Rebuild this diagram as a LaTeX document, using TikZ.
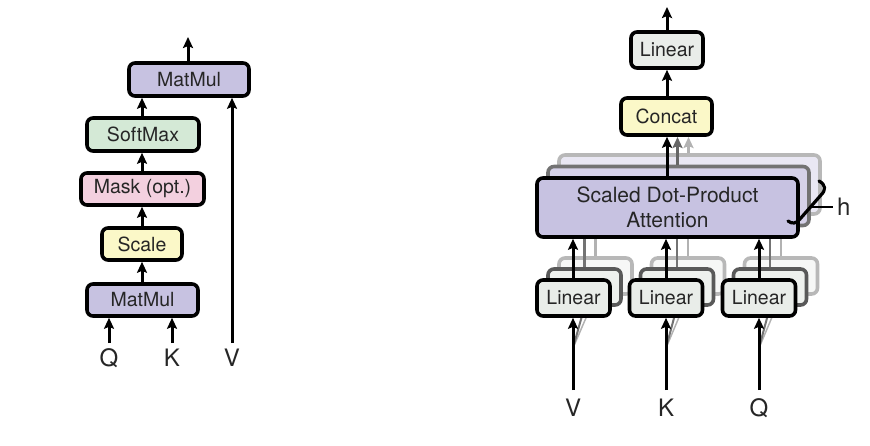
\documentclass[tikz,border=0pt]{standalone}
\usepackage{fontspec}
\setmainfont{TeX Gyre Heros}
\usetikzlibrary{arrows.meta}
\definecolor{mmpurple}{RGB}{199,194,225}
\definecolor{smgreen}{RGB}{212,233,214}
\definecolor{mkpink}{RGB}{243,208,223}
\definecolor{scyellow}{RGB}{251,248,200}
\definecolor{lingray}{RGB}{233,237,233}
\definecolor{backApurple}{RGB}{214,210,233}
\definecolor{backBpurple}{RGB}{233,231,243}
\definecolor{backAgray}{RGB}{238,241,238}
\definecolor{backBgray}{RGB}{246,247,246}
\begin{document}
\begin{tikzpicture}[x=1pt,y=-1pt,
  blk/.style={draw=black, line width=3.6pt, rounded corners=6pt, inner sep=0pt,
    font=\fontsize{19.5}{24}\selectfont, text=black!85, align=center},
  arr/.style={line width=3pt, -{Stealth[length=11pt,width=10pt,inset=2pt]}},
  backAarr/.style={arr, draw=black!60, -{Stealth[length=11pt,width=10pt,inset=2pt,color=black!60]}},
  backBarr/.style={arr, draw=black!30, -{Stealth[length=11pt,width=10pt,inset=2pt,color=black!30]}},
  backAline/.style={line width=2.5pt, draw=black!55},
  backBline/.style={line width=2.5pt, draw=black!30},
  lbl/.style={font=\fontsize{24}{26}\selectfont, inner sep=0pt, text=black!85},
  attsize/.style={minimum width=261pt, minimum height=59pt},
  linsize/.style={minimum width=73pt, minimum height=36pt},
  backA/.style={draw=black!55, fill=backApurple},
  backB/.style={draw=black!28, fill=backBpurple},
  linbackA/.style={draw=black!65, fill=backAgray},
  linbackB/.style={draw=black!28, fill=backBgray}]
\useasboundingbox (0,0) rectangle (870,446);

% ---------------- Left: scaled dot-product attention ----------------
\node[blk, fill=mmpurple, minimum width=120pt, minimum height=33pt] (mm2) at (189,79.5) {MatMul};
\node[blk, fill=smgreen, minimum width=112pt, minimum height=33pt] (sm) at (143,134.5) {SoftMax};
\node[blk, fill=mkpink, minimum width=123pt, minimum height=32pt] (mk) at (142.5,189) {Mask (opt.)};
\node[blk, fill=scyellow, minimum width=80pt, minimum height=32pt] (sc) at (142,244) {Scale};
\node[blk, fill=mmpurple, minimum width=111pt, minimum height=32pt] (mm1) at (142.5,300) {MatMul};

\coordinate (colx) at (142,0);
\draw[arr] (colx |- mm1.north) -- (colx |- sc.south);
\draw[arr] (colx |- sc.north) -- (colx |- mk.south);
\draw[arr] (colx |- mk.north) -- (colx |- sm.south);
\draw[arr] (colx |- sm.north) -- (colx |- mm2.south);
\coordinate (out1) at (188,37);
\draw[arr] (out1 |- mm2.north) -- (out1);

\node[lbl] (ql) at (109,358) {Q};
\node[lbl] (kl) at (172,358) {K};
\node[lbl] (vl) at (232,358) {V};
\coordinate (qin) at (109,343);
\coordinate (kin) at (172,343);
\coordinate (vin) at (232,343);
\draw[arr] (qin) -- (qin |- mm1.south);
\draw[arr] (kin) -- (kin |- mm1.south);
\draw[arr] (vin) -- (vin |- mm2.south);

% ---------------- Right: multi-head attention ----------------
% furthest copies
\node[blk, attsize, backB] (attB) at (689.5,184.5) {};
\node[blk, linsize, linbackB] (lvB) at (595.5,276) {};
\node[blk, linsize, linbackB] (lkB) at (688,276) {};
\node[blk, linsize, linbackB] (lqB) at (781,276) {};
\draw[backBline] (lvB.north) -- (lvB.north |- attB.south);
\draw[backBline] (lkB.north) -- (lkB.north |- attB.south);
\draw[backBline] (lqB.north) -- (lqB.north |- attB.south);
% middle copies
\node[blk, attsize, backA] (attA) at (678.5,196) {};
\node[blk, linsize, linbackA] (lvA) at (584.5,287) {};
\node[blk, linsize, linbackA] (lkA) at (677,287) {};
\node[blk, linsize, linbackA] (lqA) at (770,287) {};
\draw[backAline] (lvA.north) -- (lvA.north |- attA.south);
\draw[backAline] (lkA.north) -- (lkA.north |- attA.south);
\draw[backAline] (lqA.north) -- (lqA.north |- attA.south);

% inputs
\coordinate (vin2) at (573,390);
\coordinate (kin2) at (666,390);
\coordinate (qin2) at (759,390);
\coordinate (vsp) at (573,348);
\coordinate (ksp) at (666,348);
\coordinate (qsp) at (759,348);
\draw[backBline, line width=1.5pt] (vsp) -- (lvB.south);
\draw[backBline, line width=1.5pt] (ksp) -- (lkB.south);
\draw[backBline, line width=1.5pt] (qsp) -- (lqB.south);
\draw[backAline, line width=2pt] (vsp) -- (lvA.south);
\draw[backAline, line width=2pt] (ksp) -- (lkA.south);
\draw[backAline, line width=2pt] (qsp) -- (lqA.south);

% back arrows into Concat
\coordinate (cA) at (677.5,137);
\coordinate (cB) at (688.5,137);
\draw[backBarr] (cB |- attB.north) -- (cB);
\draw[backAarr] (cA |- attA.north) -- (cA);

% front layer
\node[blk, attsize, fill=mmpurple, font=\fontsize{21}{25}\selectfont] (att) at (667.5,207.5) {Scaled Dot-Product\\Attention};
\node[blk, linsize, fill=lingray] (lv) at (573.5,298) {Linear};
\node[blk, linsize, fill=lingray] (lk) at (666,298) {Linear};
\node[blk, linsize, fill=lingray] (lq) at (759,298) {Linear};
\node[blk, fill=scyellow, minimum width=91pt, minimum height=37pt] (cc) at (666.5,116.5) {Concat};
\node[blk, fill=lingray, minimum width=72pt, minimum height=36pt] (lo) at (667,50) {Linear};

\draw[arr] (vin2) -- (vin2 |- lv.south);
\draw[arr] (kin2) -- (kin2 |- lk.south);
\draw[arr] (qin2) -- (qin2 |- lq.south);
\draw[arr] (vin2 |- lv.north) -- (vin2 |- att.south);
\draw[arr] (kin2 |- lk.north) -- (kin2 |- att.south);
\draw[arr] (qin2 |- lq.north) -- (qin2 |- att.south);
\coordinate (cx) at (667,0);
\draw[arr] (cx |- att.north) -- (cx |- cc.south);
\draw[arr] (cx |- cc.north) -- (cx |- lo.south);
\coordinate (out2) at (667,7);
\draw[arr] (out2 |- lo.north) -- (out2);

\node[lbl] (vl2) at (573,408) {V};
\node[lbl] (kl2) at (666,408) {K};
\node[lbl] (ql2) at (759,408) {Q};

% brace for h
\draw[line width=3.2pt, line cap=round] (819,181) .. controls (826,185) and (826,190) .. (821,195)
  -- (800,219) .. controls (796,224) and (792,224) .. (788,221);
\coordinate (hb) at (812,207);
\node[lbl, anchor=west] (hl) at (837,207) {h};
\draw[line width=1.6pt] (hb) -- ([xshift=-4pt]hl.west);
\end{tikzpicture}
\end{document}
